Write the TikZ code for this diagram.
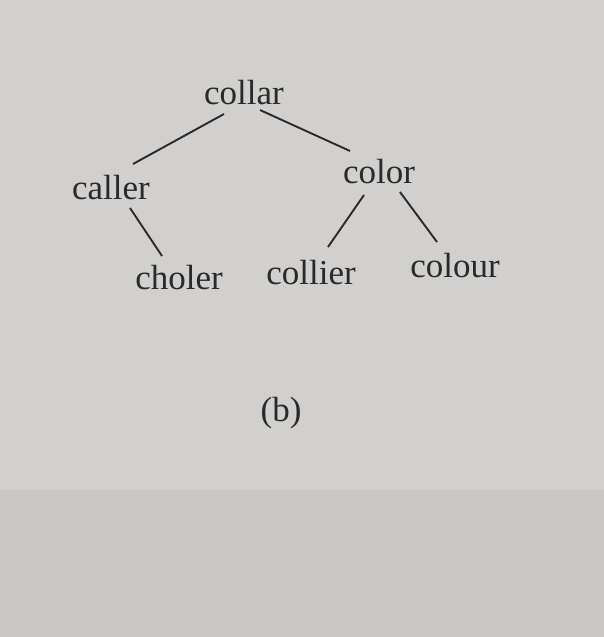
\documentclass[tikz,border=0pt]{standalone}
\usepackage{fontspec}
\setmainfont{Liberation Serif}
\definecolor{bgtop}{RGB}{209,208,206}
\definecolor{bgbot}{RGB}{204,199,199}
\definecolor{ink}{RGB}{42,42,42}
\begin{document}
\begin{tikzpicture}[x=1pt,y=-1pt,
  word/.style={anchor=base,inner sep=0pt,text=ink,font=\fontsize{35}{40}\selectfont},
  edge/.style={draw=ink,line width=1.9pt}]
\useasboundingbox (0,0) rectangle (604,637);
\fill[bgtop] (0,0) rectangle (604,490);
\fill[bgbot] (0,490) rectangle (604,637);
\node[word] (collar) at (244,104) {collar};
\node[word] (caller) at (111,199) {caller};
\node[word] (color)  at (379,183) {color};
\node[word] (choler) at (179,289) {choler};
\node[word] (collier) at (311,284) {collier};
\node[word] (colour) at (455,277) {colour};
\node[word] (b) at (281,421) {(b)};
\coordinate (e1a) at (224,114); \coordinate (e1b) at (133,164);
\coordinate (e2a) at (260,110); \coordinate (e2b) at (350,151);
\coordinate (e3a) at (130,208); \coordinate (e3b) at (162,256);
\coordinate (e4a) at (364,195); \coordinate (e4b) at (328,247);
\coordinate (e5a) at (400,192); \coordinate (e5b) at (437,242);
\draw[edge] (e1a) -- (e1b);
\draw[edge] (e2a) -- (e2b);
\draw[edge] (e3a) -- (e3b);
\draw[edge] (e4a) -- (e4b);
\draw[edge] (e5a) -- (e5b);
\end{tikzpicture}
\end{document}
